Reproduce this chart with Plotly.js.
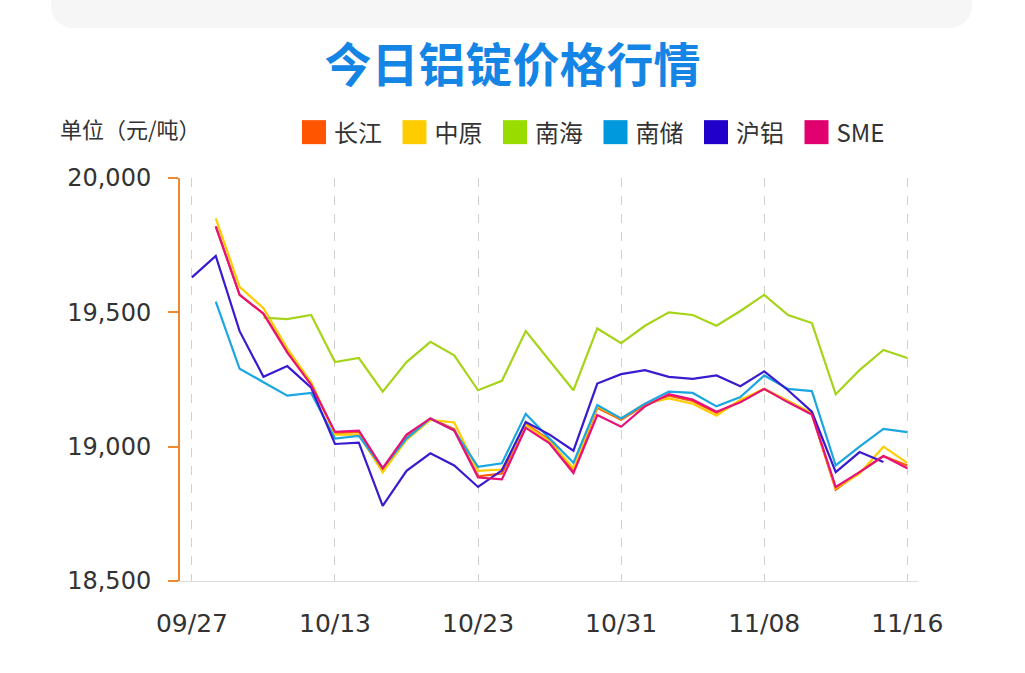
<!DOCTYPE html>
<html>
<head>
<meta charset="utf-8">
<script src="https://cdn.plot.ly/plotly-3.0.1.min.js"></script>
<style>
  html, body { margin: 0; padding: 0; background: #ffffff; }
  #strip { position: absolute; left: 51px; top: -30px; width: 921px; height: 58px; background: #f6f6f6; border-radius: 22px; z-index: 0; }
  #chart { position: absolute; left: 0; top: 0; width: 1025px; height: 673px; z-index: 1; }
</style>
</head>
<body>
<div id="strip"></div>
<div id="chart"></div>
<script>
const dates = ["09/27","09/28","10/09","10/10","10/11","10/12","10/13","10/16","10/17","10/18","10/19","10/20",
  "10/23","10/24","10/25","10/26","10/27","10/30","10/31","11/01","11/02","11/03","11/06","11/07",
  "11/08","11/09","11/10","11/13","11/14","11/15","11/16"];
const tickLabels = ["09/27","10/13","10/23","10/31","11/08","11/16"];

const changjiang = [null,19820,19565,19495,19355,19235,19050,19055,18915,19040,19105,19065,
  18890,18900,19085,19025,18910,19145,19100,19155,19190,19170,19125,19170,
  19215,19170,19120,18840,18905,18965,18930];
const zhongyuan = [null,19850,19595,19515,19365,19240,19045,19045,18905,19025,19100,19090,
  18910,18915,19080,19020,18920,19150,19105,19160,19180,19160,19115,19175,
  19215,19170,19125,18845,18900,19000,18940];
const nanhai = [null,null,null,19480,19475,19490,19315,19330,19205,19315,19390,19340,
  19210,19245,19430,19320,19210,19440,19385,19450,19500,19490,19450,19505,
  19565,19490,19460,19195,19285,19360,19330];
const nanchu = [null,19540,19290,19240,19190,19200,19030,19040,18920,19030,19105,19060,
  18925,18938,19122,19030,18940,19155,19105,19160,19205,19200,19150,19185,
  19265,19215,19207,18930,19000,19066,19054];
const hulv = [19630,19710,19430,19260,19300,19220,19010,19015,18780,18910,18975,18930,
  18850,18912,19092,19045,18985,19235,19270,19285,19260,19252,19265,19225,
  19280,19210,19130,18905,18980,18943,null];
const sme = [null,19820,19565,19495,19350,19230,19055,19060,18920,19045,19105,19060,
  18885,18878,19070,19012,18902,19118,19074,19150,19195,19175,19130,19165,
  19215,19165,19120,18850,18905,18965,18920];

const seriesNames = ["长江","中原","南海","南储","沪铝","SME"];
const seriesValues = [changjiang, zhongyuan, nanhai, nanchu, hulv, sme];
const lineColors = ["#ff5a00","#ffcc00","#a5d418","#1aa6e0","#3a1ad0","#e6117a"];
const legendColors = ["#ff5500","#ffcc00","#99dd00","#0099dd","#2200cc","#e0006e"];

const traces = [];
seriesNames.forEach((name, i) => {
  traces.push({
    type: "scatter", mode: "lines", name: name,
    x: dates, y: seriesValues[i],
    line: { color: lineColors[i], width: 2.2 },
    showlegend: false, hoverinfo: "x+y+name"
  });
});
seriesNames.forEach((name, i) => {
  traces.push({
    type: "scatter", mode: "markers", name: name,
    x: [null], y: [null],
    marker: { symbol: "square", size: 16, color: legendColors[i] },
    showlegend: true, hoverinfo: "skip"
  });
});

const layout = {
  width: 1025, height: 673,
  margin: { l: 180, r: 107, t: 177.5, b: 92 },
  paper_bgcolor: "rgba(0,0,0,0)",
  plot_bgcolor: "rgba(0,0,0,0)",
  font: { family: "DejaVu Sans, Verdana, sans-serif", color: "#333333" },
  title: {
    text: "今日铝锭价格行情",
    font: { family: "Noto Sans CJK SC", size: 47, color: "#1585e5", weight: "bold" },
    xref: "container", x: 0.5, xanchor: "center",
    yref: "container", y: 1 - 66/673, yanchor: "middle"
  },
  xaxis: {
    type: "category",
    range: [-0.5, 30.45],
    tickmode: "array", tickvals: tickLabels, ticktext: tickLabels,
    showgrid: true, gridcolor: "#d0d0d0", griddash: "dash", gridwidth: 1,
    showline: true, linecolor: "#dcdcdc", linewidth: 1,
    ticks: "", ticklabelstandoff: 20,
    tickfont: { family: "DejaVu Sans, Verdana, sans-serif", size: 25, color: "#333333" },
    zeroline: false, fixedrange: true
  },
  yaxis: {
    range: [18500, 20000],
    tickmode: "array", tickvals: [18500, 19000, 19500, 20000],
    tickformat: ",d",
    showgrid: false, zeroline: false,
    showline: true, linecolor: "#ee8833", linewidth: 2,
    ticks: "outside", ticklen: 10, tickwidth: 2, tickcolor: "#ee8833",
    ticklabelstandoff: 12,
    tickfont: { family: "DejaVu Sans, Verdana, sans-serif", size: 24, color: "#333333" },
    fixedrange: true
  },
  legend: {
    orientation: "h",
    x: (294 - 180) / 738, xanchor: "left",
    y: (581 - 132) / 403.5, yanchor: "middle",
    font: { family: "Noto Sans CJK SC", size: 24, color: "#333333" },
    entrywidth: 55.5, entrywidthmode: "pixels",
    bgcolor: "rgba(0,0,0,0)", borderwidth: 0,
    tracegroupgap: 0
  },
  annotations: [{
    text: "单位（元/吨）",
    xref: "paper", yref: "paper",
    x: (58 - 180) / 738, xanchor: "left",
    y: (581 - 127) / 403.5, yanchor: "middle",
    showarrow: false,
    font: { family: "Noto Sans CJK SC", size: 22, color: "#333333" }
  }],
  showlegend: true
};

Plotly.newPlot("chart", traces, layout, { displayModeBar: false, staticPlot: true }).then(() => {
  document.querySelectorAll("#chart .legend .legendpoints path.scatterpts").forEach(p => {
    p.setAttribute("d", "M12,12H-12V-12H12Z");
  });
});
</script>
</body>
</html>
